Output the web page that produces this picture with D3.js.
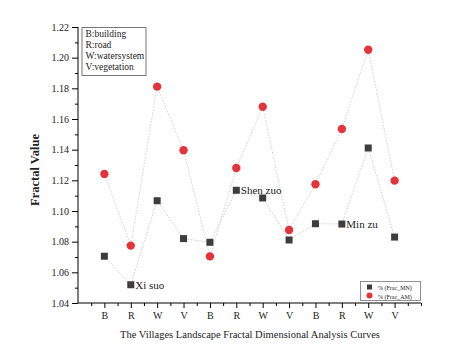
<!DOCTYPE html>
<html>
<head>
<meta charset="utf-8">
<script src="https://cdn.jsdelivr.net/npm/d3@7"></script>
<style>
  html, body { margin: 0; padding: 0; background: #fff; }
  svg { display: block; }
  text { font-family: "Liberation Serif", "Times New Roman", serif; }
</style>
</head>
<body>
<svg id="chart" width="474" height="361"></svg>
<script>
const categories = ["B", "R", "W", "V", "B", "R", "W", "V", "B", "R", "W", "V"];
const fracMN = [1.0705, 1.0519, 1.1067, 1.0820, 1.0796, 1.1135, 1.1085, 1.0811, 1.0917, 1.0915, 1.1411, 1.0830];
const fracAM = [1.1241, 1.0774, 1.1811, 1.1396, 1.0704, 1.1280, 1.1680, 1.0876, 1.1174, 1.1535, 1.2052, 1.1198];
const yTicks = [1.04, 1.06, 1.08, 1.10, 1.12, 1.14, 1.16, 1.18, 1.20, 1.22];
const villageLabels = [
  { index: 1, text: "Xi suo" },
  { index: 5, text: "Shen zuo" },
  { index: 9, text: "Min zu" }
];
const legendNames = ["% (Frac_MN)", "% (Frac_AM)"];
const noteLines = ["B:building", "R:road", "W:watersystem", "V:vegetation"];
const xTitle = "The Villages Landscape Fractal Dimensional Analysis Curves";
const yTitle = "Fractal Value";

const svg = d3.select("#chart");
const pL = 78, pR = 421, pT = 27, pB = 303;

const x = d3.scaleLinear().domain([0, categories.length + 1]).range([pL, pR]);
const y = d3.scaleLinear().domain([1.04, 1.22]).range([pB, pT]);

// Lines
const line = d3.line().x((d, i) => x(i + 1)).y(d => y(d));
svg.append("path").datum(fracAM).attr("d", line)
  .attr("fill", "none").attr("stroke", "#dcd0d0").attr("stroke-width", 1)
  .attr("stroke-dasharray", "1.5,1.5");
svg.append("path").datum(fracMN).attr("d", line)
  .attr("fill", "none").attr("stroke", "#cfcfcf").attr("stroke-width", 1)
  .attr("stroke-dasharray", "1.5,1.5");

// Y axis
const yAxis = d3.axisLeft(y).tickValues(yTicks).tickFormat(d3.format(".2f")).tickSize(6).tickPadding(3);
const gy = svg.append("g").attr("transform", `translate(${pL},0)`).call(yAxis);
gy.select(".domain").attr("d", `M0,${pB}V${pT}`).attr("stroke", "#000");
gy.selectAll("text").attr("font-size", 10).attr("fill", "#222");
const yMinor = d3.range(1.05, 1.22, 0.02);
svg.append("g").attr("transform", `translate(${pL},0)`).call(
  d3.axisLeft(y).tickValues(yMinor).tickSize(3).tickFormat("")
).call(g => g.select(".domain").remove());

// X axis
const xAxis = d3.axisBottom(x).tickValues(d3.range(1, categories.length + 1))
  .tickFormat(i => categories[i - 1]).tickSize(5).tickPadding(4);
const gx = svg.append("g").attr("transform", `translate(0,${pB})`).call(xAxis);
gx.select(".domain").attr("d", `M${pL},0H${pR}`).attr("stroke", "#000");
gx.selectAll("text").attr("font-size", 10).attr("fill", "#222");
const xMinor = d3.range(0.5, categories.length + 1, 1).concat([categories.length + 1]);
svg.append("g").attr("transform", `translate(0,${pB})`).call(
  d3.axisBottom(x).tickValues(xMinor).tickSize(3).tickFormat("")
).call(g => g.select(".domain").remove());

// Axis titles
svg.append("text").attr("x", 250).attr("y", 338)
  .attr("text-anchor", "middle").attr("font-size", 10.5).attr("fill", "#222").text(xTitle);
svg.append("text").attr("transform", `translate(39,${(pT + pB) / 2 + 5}) rotate(-90)`)
  .attr("text-anchor", "middle").attr("font-size", 12.5).attr("font-weight", "bold")
  .attr("fill", "#222").text(yTitle);

// Markers
svg.append("g").selectAll("rect").data(fracMN).join("rect")
  .attr("x", (d, i) => x(i + 1) - 3.5).attr("y", d => y(d) - 3.5)
  .attr("width", 7).attr("height", 7).attr("fill", "#3d3d3d");
svg.append("g").selectAll("circle").data(fracAM).join("circle")
  .attr("cx", (d, i) => x(i + 1)).attr("cy", d => y(d)).attr("r", 4.2)
  .attr("fill", "#e2343a");

// Village labels
svg.append("g").selectAll("text").data(villageLabels).join("text")
  .attr("x", d => x(d.index + 1) + 4.5).attr("y", d => y(fracMN[d.index]) + 4)
  .attr("font-size", 11).attr("fill", "#222").text(d => d.text);

// Note box
const nb = svg.append("g");
nb.append("rect").attr("x", 82).attr("y", 27.5).attr("width", 64).attr("height", 48)
  .attr("fill", "#fff").attr("stroke", "#777").attr("stroke-width", 1);
nb.selectAll("text").data(noteLines).join("text")
  .attr("x", 85.5).attr("y", (d, i) => 36.5 + i * 11.3)
  .attr("font-size", 9.5).attr("fill", "#222").text(d => d);

// Legend
const lg = svg.append("g");
lg.append("rect").attr("x", 360.5).attr("y", 281.5).attr("width", 60).attr("height", 19)
  .attr("fill", "#fff").attr("stroke", "#777").attr("stroke-width", 0.8);
lg.append("rect").attr("x", 367).attr("y", 284.5).attr("width", 5).attr("height", 5).attr("fill", "#3d3d3d");
lg.append("circle").attr("cx", 369.5).attr("cy", 295.5).attr("r", 3).attr("fill", "#e2343a");
lg.selectAll("text").data(legendNames).join("text")
  .attr("x", 378).attr("y", (d, i) => 289.5 + i * 9.5)
  .attr("font-size", 6).attr("fill", "#222").text(d => d);
</script>
</body>
</html>
